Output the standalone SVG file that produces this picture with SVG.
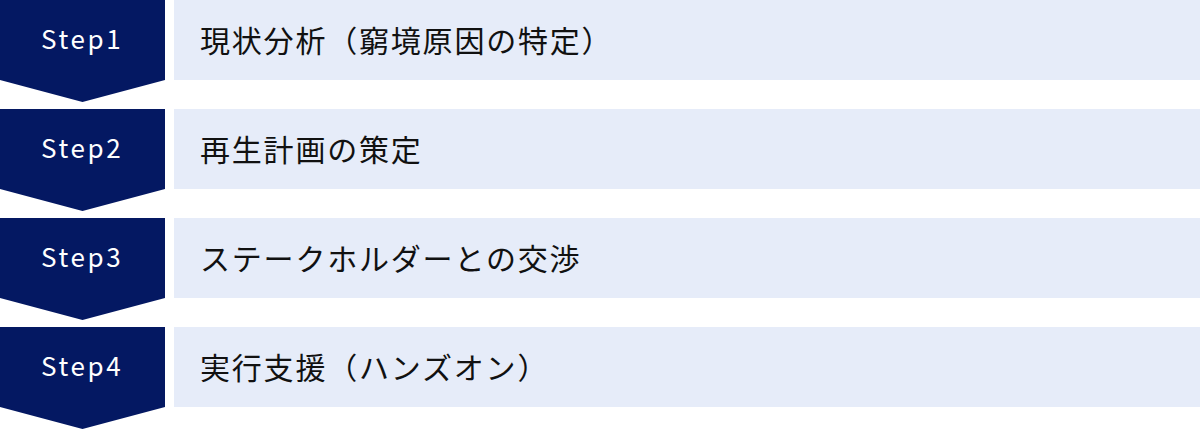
<svg xmlns="http://www.w3.org/2000/svg" width="1200" height="429" viewBox="0 0 1200 429">
<style>
.step{fill:#041862}
.bar{fill:#E6ECF9}
.st{font-family:"Noto Sans CJK JP","Noto Sans",sans-serif;font-size:26px;letter-spacing:2.6px;fill:#ffffff}
.lb{font-family:"Noto Sans CJK JP","Noto Sans",sans-serif;font-size:30px;letter-spacing:1.8px;fill:#111111}
</style>
<rect width="1200" height="429" fill="#ffffff"/>
<g id="step1">
<polygon class="step" points="0,0 165,0 165,80 82.5,102 0,80"/>
<rect class="bar" x="174" y="0" width="1026" height="80"/>
<text class="st" x="41" y="48.5">Step1</text>
<text class="lb" x="200" y="52">現状分析（窮境原因の特定）</text>
</g>
<g id="step2">
<polygon class="step" points="0,109 165,109 165,189 82.5,211 0,189"/>
<rect class="bar" x="174" y="109" width="1026" height="80"/>
<text class="st" x="41" y="157.5">Step2</text>
<text class="lb" x="200" y="161">再生計画の策定</text>
</g>
<g id="step3">
<polygon class="step" points="0,218 165,218 165,298 82.5,320 0,298"/>
<rect class="bar" x="174" y="218" width="1026" height="80"/>
<text class="st" x="41" y="266.5">Step3</text>
<text class="lb" x="200" y="270">ステークホルダーとの交渉</text>
</g>
<g id="step4">
<polygon class="step" points="0,327 165,327 165,407 82.5,429 0,407"/>
<rect class="bar" x="174" y="327" width="1026" height="80"/>
<text class="st" x="41" y="375.5">Step4</text>
<text class="lb" x="200" y="379">実行支援（ハンズオン）</text>
</g>
<g id="connectors"></g>
</svg>
